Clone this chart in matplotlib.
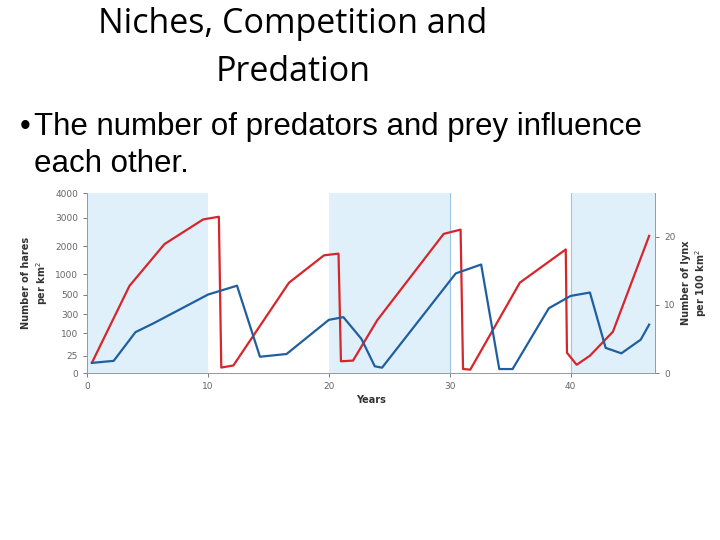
import numpy as np
import matplotlib.pyplot as plt

# hare tick scale (non-linear axis in the source) -> tick positions
hare_ticks = [0, 25, 100, 300, 500, 1000, 2000, 3000, 4000]
hare_tick_pos = [0, 51, 117, 173, 230, 290, 372, 455, 527]

hare_years = [0.4, 3.5, 6.4, 9.6, 10.9, 11.1, 12.1, 16.7, 19.6, 20.8, 21.0, 22.0, 24.0,
              29.5, 30.9, 31.1, 31.7, 35.8, 39.6, 39.7, 40.5, 41.6, 43.5, 46.5]
hares = [15, 710, 2070, 2940, 3040, 8, 11, 790, 1670, 1730, 17, 18, 235,
         2430, 2580, 6, 5, 790, 1880, 35, 12, 25, 115, 2360]

lynx_years = [0.4, 2.2, 4.0, 5.5, 10.0, 12.4, 14.3, 16.5, 20.0, 21.2, 22.7, 23.8, 24.4,
              30.5, 32.6, 34.1, 35.2, 38.2, 40.0, 41.6, 42.9, 44.2, 45.8, 46.5]
lynx = [1.5, 1.8, 6.0, 7.3, 11.5, 12.8, 2.4, 2.8, 7.8, 8.2, 5.0, 1.0, 0.8,
        14.6, 15.9, 0.6, 0.6, 9.5, 11.3, 11.8, 3.7, 2.9, 4.9, 7.1]

fig = plt.figure(figsize=(7.2, 5.4), dpi=100)
fig.text(0.407, 0.955, 'Niches, Competition and', ha='center', va='center',
         fontsize=24.5, family='Open Sans')
fig.text(0.407, 0.867, 'Predation', ha='center', va='center',
         fontsize=24.5, family='Open Sans')
fig.text(0.028, 0.765, '\u2022', fontsize=22, family='Liberation Sans', va='center')
fig.text(0.047, 0.765, 'The number of predators and prey influence', fontsize=22.5,
         family='Liberation Sans', va='center')
fig.text(0.047, 0.697, 'each other.', fontsize=22.5, family='Liberation Sans', va='center')

ax = fig.add_axes([0.121, 0.309, 0.789, 0.334])
gray = '#666666'
for a, b in [(0, 10), (20, 30), (40, 47)]:
    ax.axvspan(a, b, color='#dff0fa', lw=0, zorder=0)
for x in [30, 40]:
    ax.axvline(x, color='#9cc6df', lw=0.8, zorder=0)

hare_pos = np.interp(hares, hare_ticks, hare_tick_pos)
ax.plot(hare_years, hare_pos, color='#d7262b', lw=1.6, zorder=3)
ax.set_xlim(0, 47)
ax.set_ylim(0, 528)
ax.set_yticks(hare_tick_pos)
ax.set_yticklabels([str(t) for t in hare_ticks])
ax.set_xticks([0, 10, 20, 30, 40])
ax.set_xlabel('Years', fontsize=7, fontweight='bold', color='#333333', labelpad=3)
ax.set_ylabel('Number of hares\nper km$^2$', fontsize=7, fontweight='bold',
              color='#333333', labelpad=4)

ax2 = ax.twinx()
ax2.plot(lynx_years, lynx, color='#1f5fa0', lw=1.6, zorder=3)
ax2.set_ylim(0, 26.4)
ax2.set_yticks([0, 10, 20])
ax2.set_ylabel('Number of lynx\nper 100 km$^2$', fontsize=7, fontweight='bold',
               color='#333333', labelpad=4)

for a in (ax, ax2):
    a.tick_params(labelsize=6.5, colors=gray, length=3, width=0.6)
    for s in a.spines.values():
        s.set_color('#999999')
        s.set_linewidth(0.6)
    a.spines['top'].set_visible(False)

fig.savefig('out.png', dpi=100)
